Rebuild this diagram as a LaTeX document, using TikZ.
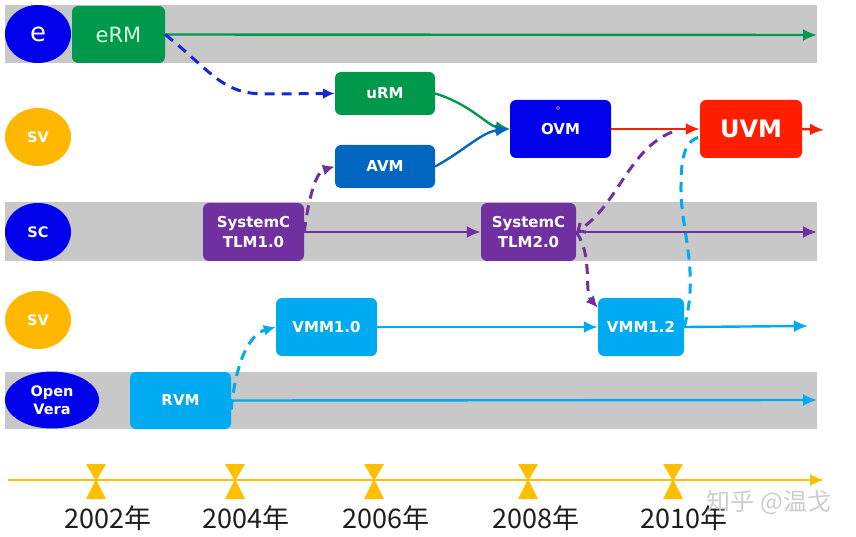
\documentclass[tikz,border=0pt]{standalone}
\usepackage{fontspec}
\setmainfont{DejaVu Sans}
\newfontfamily\cjkf{Noto Sans CJK SC}
\usetikzlibrary{shapes.geometric,arrows.meta}
\definecolor{bandgray}{RGB}{200,200,200}
\definecolor{egreen}{RGB}{0,153,76}
\definecolor{ltgreen}{RGB}{215,255,225}
\definecolor{deepblue}{RGB}{0,0,235}
\definecolor{svorange}{RGB}{255,183,0}
\definecolor{avmblue}{RGB}{0,102,192}
\definecolor{tlmpurple}{RGB}{112,48,160}
\definecolor{vmmblue}{RGB}{0,170,240}
\definecolor{uvmred}{RGB}{255,30,0}
\definecolor{dashblue}{RGB}{25,40,205}
\definecolor{tlorange}{RGB}{255,190,0}
\definecolor{yeartext}{RGB}{30,30,30}
\definecolor{wmgray}{RGB}{205,205,205}
\tikzset{
  lane/.style={ellipse, minimum width=66pt, minimum height=58pt, inner sep=0pt, text=white,
     font=\bfseries\fontsize{14.5}{18}\selectfont, align=center},
  box/.style={rectangle, rounded corners=6pt, inner sep=0pt, text=white,
     font=\bfseries\fontsize{15}{20}\selectfont, align=center},
  solidarrow/.style={line width=2.4pt, -{Latex[length=14pt,width=12pt]}},
  dasharrow/.style={line width=3pt, dash pattern=on 10pt off 7pt, -{Latex[length=12pt,width=11pt]}},
  dashplain/.style={line width=3pt, dash pattern=on 10pt off 7pt},
  year/.style={text=yeartext, font=\cjkf\fontsize{27}{27}\selectfont, inner sep=0pt},
}
\begin{document}
\begin{tikzpicture}[x=1pt,y=-1pt]
\useasboundingbox (0,0) rectangle (856,537);
% bands
\fill[bandgray] (5,5) rectangle (817,63);
\fill[bandgray] (5,202) rectangle (817,261);
\fill[bandgray] (5,372) rectangle (817,429);
% lane labels
\node[lane, fill=deepblue, font=\fontsize{26}{26}\selectfont] (le) at (38,34) {e};
\node[lane, fill=svorange] (lsv1) at (38,137) {SV};
\node[lane, fill=deepblue] (lsc) at (38,232) {SC};
\node[lane, fill=svorange] (lsv2) at (38,320) {SV};
\node[lane, fill=deepblue, minimum width=94pt, minimum height=57pt] (lov) at (52,400) {Open\\Vera};
% boxes
\node[box, fill=egreen, text=ltgreen, minimum width=93pt, minimum height=57pt, font=\fontsize{21}{21}\selectfont] (eRM) at (118.5,34.5) {eRM};
\node[box, fill=egreen, minimum width=100pt, minimum height=43pt] (uRM) at (385,93.5) {uRM};
\node[box, fill=avmblue, minimum width=100pt, minimum height=43pt] (AVM) at (385,166.5) {AVM};
\node[box, fill=deepblue, minimum width=101pt, minimum height=58pt] (OVM) at (560.5,129) {OVM};
\node[box, fill=uvmred, minimum width=102pt, minimum height=58pt, font=\bfseries\fontsize{24}{24}\selectfont] (UVM) at (751,129) {UVM};
\node[box, fill=tlmpurple, minimum width=101pt, minimum height=58pt] (TLM1) at (253.5,232) {SystemC\\TLM1.0};
\node[box, fill=tlmpurple, minimum width=95pt, minimum height=58pt] (TLM2) at (528.5,232) {SystemC\\TLM2.0};
\node[box, fill=vmmblue, minimum width=101pt, minimum height=58pt] (VMM10) at (326.5,327) {VMM1.0};
\node[box, fill=vmmblue, minimum width=86pt, minimum height=58pt] (VMM12) at (641,327) {VMM1.2};
\node[box, fill=vmmblue, minimum width=101pt, minimum height=57pt] (RVM) at (180.5,400.5) {RVM};
\draw[tlmpurple!60, line width=0.6pt] (558,108) circle (1.6pt);
% free ends
\coordinate (eEnd) at (817,35);
\coordinate (uvmEnd) at (824,130);
\coordinate (tlmEnd) at (817,232);
\coordinate (vmmEnd) at (808,326);
\coordinate (rvmEnd) at (817,400);
\coordinate (pStart) at (672,132);
% solid connectors
\draw[solidarrow, egreen] (eRM.east) -- (eEnd);
\draw[solidarrow, egreen] (uRM.east) .. controls (470,104) and (488,126) .. (OVM.west);
\draw[solidarrow, avmblue] (AVM.east) .. controls (465,150) and (482,132) .. (OVM.west);
\draw[solidarrow, uvmred] (OVM.east) -- (UVM.west);
\draw[solidarrow, uvmred] (UVM.east) -- (uvmEnd);
\draw[solidarrow, tlmpurple] (TLM1.east) -- (TLM2.west);
\draw[solidarrow, tlmpurple] (TLM2.east) -- (tlmEnd);
\draw[solidarrow, vmmblue] (VMM10.east) -- (VMM12.west);
\draw[solidarrow, vmmblue] (VMM12.east) -- (vmmEnd);
\draw[solidarrow, vmmblue] (RVM.east) -- (rvmEnd);
% dashed connectors
\draw[dasharrow, dashblue] (eRM.east) .. controls (212,72) and (222,94) .. (265,94) -- (uRM.west);
\draw[dasharrow, tlmpurple] (TLM1.east) .. controls (309,196) and (316,172) .. (AVM.west);
\draw[dashplain, tlmpurple, -{Straight Barb[length=6pt,width=11pt]}] (pStart) .. controls (628,150) and (618,205) .. (TLM2.east);
\draw[dasharrow, tlmpurple] (TLM2.east) .. controls (593,255) and (584,292) .. ([yshift=-10pt]VMM12.north west);
\draw[dashplain, vmmblue] (VMM12.east) .. controls (700,270) and (680,230) .. (681,185) .. controls (681,150) and (688,140) .. ([yshift=-8pt]UVM.west);
\draw[dasharrow, vmmblue] ([yshift=-9pt]RVM.east) .. controls (236,360) and (250,334) .. (VMM10.west);
% timeline
\coordinate (tlStart) at (8,480);
\coordinate (tlEnd) at (824,480);
\draw[tlorange, line width=2.8pt, -{Latex[length=14pt,width=12pt]}] (tlStart) -- (tlEnd);
\foreach \x in {96,235,374,528,673} {
  \fill[tlorange] (\x-10,464) -- (\x+10,464) -- (\x,481) -- cycle;
  \fill[tlorange] (\x,479) -- (\x-10,499) -- (\x+10,499) -- cycle;
}
\node[year] (y2002) at (108,518) {2002年};
\node[year] (y2004) at (246,518) {2004年};
\node[year] (y2006) at (386,518) {2006年};
\node[year] (y2008) at (536,518) {2008年};
\node[year] (y2010) at (684,518) {2010年};
\node[text=wmgray, font=\cjkf\fontsize{24}{24}\selectfont, inner sep=0pt] (wm) at (769,502) {知乎 @温戈};
\end{tikzpicture}
\end{document}
